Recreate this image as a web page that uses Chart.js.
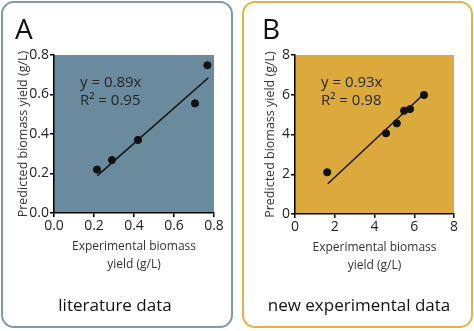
<!DOCTYPE html>
<html>
<head>
<meta charset="utf-8">
<script src="https://cdn.jsdelivr.net/npm/chart.js@4"></script>
<style>
  body { margin: 0; background: #fff; font-family: "Open Sans", sans-serif; }
  #wrap { position: relative; width: 474px; height: 331px; overflow: hidden; }
  .box { position: absolute; border-radius: 13px; border: 2px solid; box-sizing: border-box; }
  .cv { position: absolute; top: 0; }
  .letter { position: absolute; top: 9px; font-size: 28px; color: #111; }
  .caption { position: absolute; top: 293px; font-size: 17px; color: #111; text-align: center; }
</style>
</head>
<body>
<div id="wrap">
  <div class="box" style="left:1px; top:1px; width:232px; height:327px; border-color:#7d99ad;"></div>
  <div class="box" style="left:242px; top:1px; width:231px; height:327px; border-color:#e4b348;"></div>
  <div class="cv" style="left:0; width:237px; height:331px;"><canvas id="chartA"></canvas></div>
  <div class="cv" style="left:237px; width:237px; height:331px;"><canvas id="chartB"></canvas></div>
  <div class="letter" style="left:15px;">A</div>
  <div class="letter" style="left:262px;">B</div>
  <div class="caption" style="left:15px; width:200px;">literature data</div>
  <div class="caption" style="left:259px; width:200px;">new experimental data</div>
</div>
<script>
// panel A - literature data
var litX = [0.215, 0.29, 0.42, 0.705, 0.767];
var litY = [0.22, 0.268, 0.37, 0.555, 0.748];
var litFitX = [0.217, 0.772];
var litFitY = [0.189, 0.685];
var litTicks = [0, 0.2, 0.4, 0.6, 0.8];
var litText = ["y = 0.89x", "R² = 0.95"];

// panel B - new experimental data
var newX = [1.62, 4.58, 5.12, 5.49, 5.79, 6.49];
var newY = [2.1, 4.06, 4.56, 5.2, 5.28, 5.99];
var newFitX = [1.65, 6.5];
var newFitY = [1.52, 6.05];
var newTicks = [0, 2, 4, 6, 8];
var newText = ["y = 0.93x", "R² = 0.98"];

var xTitle = ["Experimental biomass", "yield (g/L)"];
var yTitle = "Predicted biomass yield (g/L)";

function pts(xs, ys) {
  return xs.map(function (x, i) { return { x: x, y: ys[i] }; });
}

var plotBg = {
  id: 'plotBg',
  beforeDraw: function (chart, args, opts) {
    var a = chart.chartArea, ctx = chart.ctx;
    ctx.save();
    ctx.fillStyle = opts.color;
    ctx.fillRect(a.left, a.top, a.right - a.left, a.bottom - a.top);
    ctx.restore();
  }
};

var eqText = {
  id: 'eqText',
  afterDatasetsDraw: function (chart, args, opts) {
    var ctx = chart.ctx, a = chart.chartArea;
    ctx.save();
    ctx.fillStyle = '#262626';
    ctx.font = '15px "Open Sans"';
    ctx.textBaseline = 'alphabetic';
    ctx.fillText(opts.lines[0], a.left + 26, a.top + 32);
    ctx.fillText(opts.lines[1], a.left + 26, a.top + 50);
    ctx.restore();
  }
};

function makeChart(id, xs, ys, fx, fy, ticks, lines, bg, padLeft, yWidth, padRight, padBottom, dec) {
  var axis = function (isX) {
    return {
      type: 'linear',
      min: ticks[0],
      max: ticks[ticks.length - 1],
      afterBuildTicks: function (s) { s.ticks = ticks.map(function (v) { return { value: v }; }); },
      afterFit: function (s) {
        if (isX) s.height = 61; else s.width = yWidth;
      },
      border: { display: true, color: '#000', width: 1.5 },
      grid: { display: true, drawOnChartArea: false, drawTicks: true, tickLength: 4, color: '#000', lineWidth: 1.5 },
      ticks: {
        color: '#222',
        font: { size: 14, family: 'Open Sans' },
        padding: 1,
        callback: function (v) { return v.toFixed(dec); }
      },
      title: {
        display: true,
        text: isX ? xTitle : yTitle,
        color: '#333',
        font: { size: isX ? 12 : 12.5, family: 'Open Sans', lineHeight: 1.5 },
        padding: { top: 0, bottom: 0 }
      }
    };
  };
  return new Chart(document.getElementById(id), {
    type: 'scatter',
    data: {
      datasets: [{
        data: pts(xs, ys),
        backgroundColor: '#111',
        borderColor: '#111',
        pointRadius: 3.6
      }, {
        type: 'line',
        data: pts(fx, fy),
        borderColor: '#111',
        borderWidth: 1.5,
        pointRadius: 0,
        fill: false
      }]
    },
    options: {
      responsive: true,
      maintainAspectRatio: false,
      animation: false,
      layout: { padding: { left: padLeft, top: 55, right: padRight, bottom: padBottom } },
      plugins: {
        legend: { display: false },
        tooltip: { enabled: false },
        plotBg: { color: bg },
        eqText: { lines: lines }
      },
      scales: { x: axis(true), y: axis(false) }
    },
    plugins: [plotBg, eqText]
  });
}

makeChart('chartA', litX, litY, litFitX, litFitY, litTicks, litText, '#6a8a9e', 14, 40, 23, 57, 1);
makeChart('chartB', newX, newY, newFitX, newFitY, newTicks, newText, '#dcaa3c', 24, 34, 20, 56, 0);
</script>
</body>
</html>
